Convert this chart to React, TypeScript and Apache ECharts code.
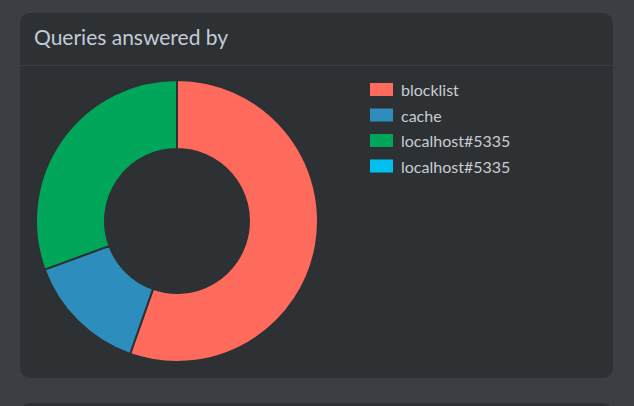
import React, { useEffect, useRef } from "react";
import * as echarts from "echarts";

const categories = ["blocklist", "cache", "localhost#5335", "localhost#5335 "];
const values = [55.4, 14.0, 30.6, 0];
const colors = ["#fe6a5b", "#2d8ebe", "#00a65a", "#00c0ef"];
const titleText = "Queries answered by";

export default function App() {
  const ref = useRef<HTMLDivElement>(null);
  useEffect(() => {
    document.body.style.margin = "0";
    const chart = echarts.init(ref.current!, undefined, { renderer: "svg" });
    chart.setOption({
      animation: false,
      title: {
        text: titleText,
        left: 9,
        top: 8,
        textStyle: { color: "#c3ccd6", fontSize: 21, fontWeight: "normal", fontFamily: "Lato" },
      },
      graphic: [
        {
          type: "line",
          shape: { x1: 0, y1: 52.5, x2: 593, y2: 52.5 },
          style: { stroke: "#3b3f43", lineWidth: 1 },
          silent: true,
        },
      ],
      legend: {
        orient: "vertical",
        left: 343,
        top: 63,
        icon: "rect",
        itemWidth: 25,
        itemHeight: 15,
        itemGap: 8.5,
        selectedMode: false,
        data: categories,
        formatter: (n: string) => n.trim(),
        textStyle: { color: "#c8cdd3", fontSize: 16, fontFamily: "Lato", padding: [0, 0, 0, 2] },
      },
      series: [
        {
          type: "pie",
          center: [157, 208],
          radius: [72, 141],
          startAngle: 90,
          clockwise: true,
          label: { show: false },
          labelLine: { show: false },
          emphasis: { disabled: true },
          itemStyle: { borderColor: "#2e3134", borderWidth: 2 },
          data: categories.map((c, i) => ({ name: c, value: values[i], itemStyle: { color: colors[i] } })),
        },
      ],
    });
    return () => chart.dispose();
  }, []);
  return (
    <div style={{ position: "fixed", left: 0, top: 0, width: 634, height: 406, background: "#3b3f44", overflow: "hidden" }}>
      <div style={{ position: "absolute", left: 20, top: 13, width: 593, height: 365, background: "#2e3134", borderRadius: 10 }}>
        <div ref={ref} style={{ width: 593, height: 365 }} />
      </div>
      <div style={{ position: "absolute", left: 20, top: 403, width: 593, height: 20, background: "#2e3134", borderRadius: 10 }} />
    </div>
  );
}
